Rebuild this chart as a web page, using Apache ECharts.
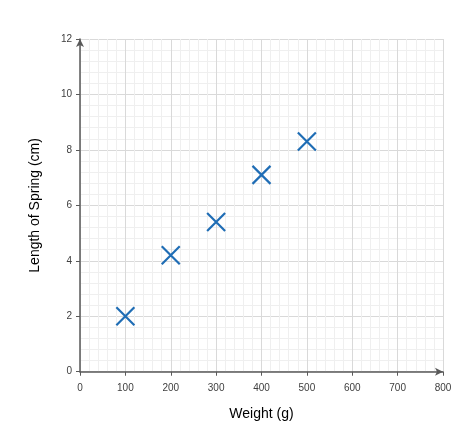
<!DOCTYPE html><html><head><script src="https://cdn.jsdelivr.net/npm/echarts@6/dist/echarts.min.js"></script></head><body style="margin:0;background:#fff"><div id="c" style="width:474px;height:431px"></div><script>
const weights=[100,200,300,400,500];
const lengths=[2,4.2,5.4,7.1,8.3];
const c=echarts.init(document.getElementById('c'));
const ax={axisLine:{show:true,onZero:false,lineStyle:{color:'#595959',width:1.5},symbol:['none','arrow'],symbolSize:[6,8]},axisTick:{show:true,length:4,lineStyle:{color:'#595959'}},
axisLabel:{color:'#404040',fontSize:10,fontFamily:'Liberation Sans'},splitLine:{show:true,lineStyle:{color:'#d9d9d9'}},minorTick:{show:true,splitNumber:5,length:0},minorSplitLine:{show:true,lineStyle:{color:'#efefef'}},
nameTextStyle:{color:'#000',fontSize:14,fontFamily:'Liberation Sans'},nameLocation:'middle'};
c.setOption({animation:false,grid:{left:80,right:31,top:39,bottom:59},
xAxis:Object.assign({},ax,{type:'value',min:0,max:800,interval:100,name:'Weight (g)',nameGap:28}),
yAxis:Object.assign({},ax,{type:'value',min:0,max:12,interval:2,name:'Length of Spring (cm)',nameGap:33}),
series:[{type:'scatter',data:weights.map((w,i)=>[w,lengths[i]]),symbol:'path://M0,0L10,10M10,0L0,10',symbolSize:18,itemStyle:{color:'none',borderColor:'#1f6db5',borderWidth:2.2,opacity:1}}]});
</script></body></html>
